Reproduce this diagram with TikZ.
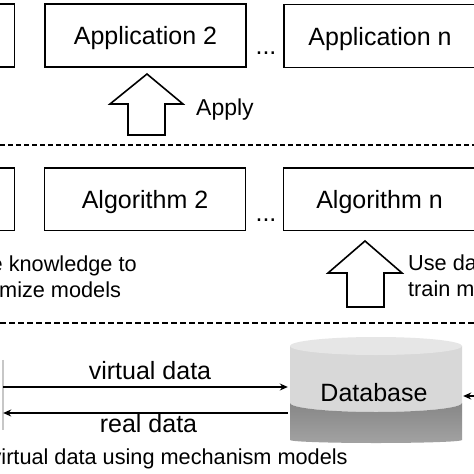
\documentclass[tikz,border=0pt]{standalone}
\usepackage{fontspec}
\setmainfont{Liberation Sans}
\usetikzlibrary{arrows.meta}
\definecolor{dbtop}{HTML}{E6E6E6}
\definecolor{dbbody}{HTML}{D8D8D8}
\definecolor{dbdarkA}{HTML}{878787}
\definecolor{dbdarkB}{HTML}{A2A2A2}
\begin{document}
\begin{tikzpicture}[x=1pt,y=-1pt,
  box/.style={draw, line width=1.8pt, minimum height=63pt, inner sep=0pt, text height=18pt, text depth=0pt, font=\fontsize{25}{30}\selectfont},
  lbl/.style={inner sep=0pt, font=\fontsize{25}{30}\selectfont},
  note/.style={inner sep=0pt, anchor=base west, font=\fontsize{21.7}{26}\selectfont},
  blk/.style={draw, line width=1.6pt, fill=white, line join=miter},
  arr/.style={line width=1.3pt, -{Stealth[length=8pt,width=7pt]}},
  sepA/.style={line width=1.5pt, dash pattern=on 4.5pt off 3.5pt},
  sepB/.style={line width=2pt, dash pattern=on 5.5pt off 3.5pt}]
\useasboundingbox (0,0) rectangle (474,474);
\clip (0,0) rectangle (474,474);
\fill[white] (0,0) rectangle (474,474);

% top row
\node[box, minimum width=201pt] (app1) at (-86,35.5) {};
\node[box, minimum width=201pt] (app2) at (145.5,35.5) {Application 2};
\node[box, minimum width=192pt] (appn) at (380,36) {Application n};
\node[lbl, anchor=base] (dots1) at (266,54.5) {...};

% apply arrow
\draw[blk] (128,135) -- (128,104) -- (110,104) -- (147,74) -- (183,104) -- (165,104) -- (165,135) -- cycle;
\node[note, font=\fontsize{23}{28}\selectfont] (apply) at (196,115) {Apply};

\draw[sepA] (0,145) -- (474,145);

% algorithm row
\node[box, minimum width=201pt, minimum height=62.5pt] (alg1) at (-86,199.3) {};
\node[box, minimum width=201pt, minimum height=62.5pt] (alg2) at (145,199.3) {Algorithm 2};
\node[box, minimum width=192pt, minimum height=62.5pt] (algn) at (379.5,199.3) {Algorithm n};
\node[lbl, anchor=base] (dots2) at (266,221.5) {...};

% annotations
\node[note] (kn1) at (-36,271) {Use knowledge to};
\node[note] (kn2) at (-36,297) {optimize models};
\draw[blk] (347,307) -- (347,273) -- (328,273) -- (365,241) -- (402,273) -- (384,273) -- (384,307) -- cycle;
\node[note] (ud1) at (408,270) {Use data to};
\node[note] (ud2) at (408,296) {train models};

\draw[sepB] (0,323) -- (474,323);

% bottom
\node[minimum width=200pt, minimum height=70pt, inner sep=0pt] (sim) at (-97,395) {};
\draw[black!22, line width=1.5pt] (sim.north east) -- (sim.south east);

\fill[dbbody] (290,346) -- (290,403) arc[start angle=180, end angle=360, x radius=86pt, y radius=9pt] -- (462,346) -- cycle;
\shade[top color=dbdarkA, bottom color=dbdarkB] (290,403) arc[start angle=180, end angle=360, x radius=86pt, y radius=9pt] -- (462,440) arc[start angle=0, end angle=-180, x radius=86pt, y radius=3pt] -- cycle;
\fill[dbtop] (376,346) ellipse [x radius=86pt, y radius=9pt];
\node[inner sep=0pt, minimum width=172pt, minimum height=106pt, text height=18pt, text depth=0pt, font=\fontsize{25}{30}\selectfont] (db) at (374,392) {Database};

\coordinate (rin) at (490,396);
\draw[arr] ([yshift=8pt]sim.east) -- ([yshift=5pt]db.west);
\draw[arr] ([yshift=-21pt]db.west) -- ([yshift=-18pt]sim.east);
\draw[arr] (rin) -- ([xshift=3pt]rin -| db.east);

\node[lbl, anchor=base] (vdl) at (150,379) {virtual data};
\node[lbl, anchor=base] (rdl) at (148.5,432.5) {real data};
\node[note] (mech) at (-9.6,464) {virtual data using mechanism models};
\end{tikzpicture}
\end{document}
